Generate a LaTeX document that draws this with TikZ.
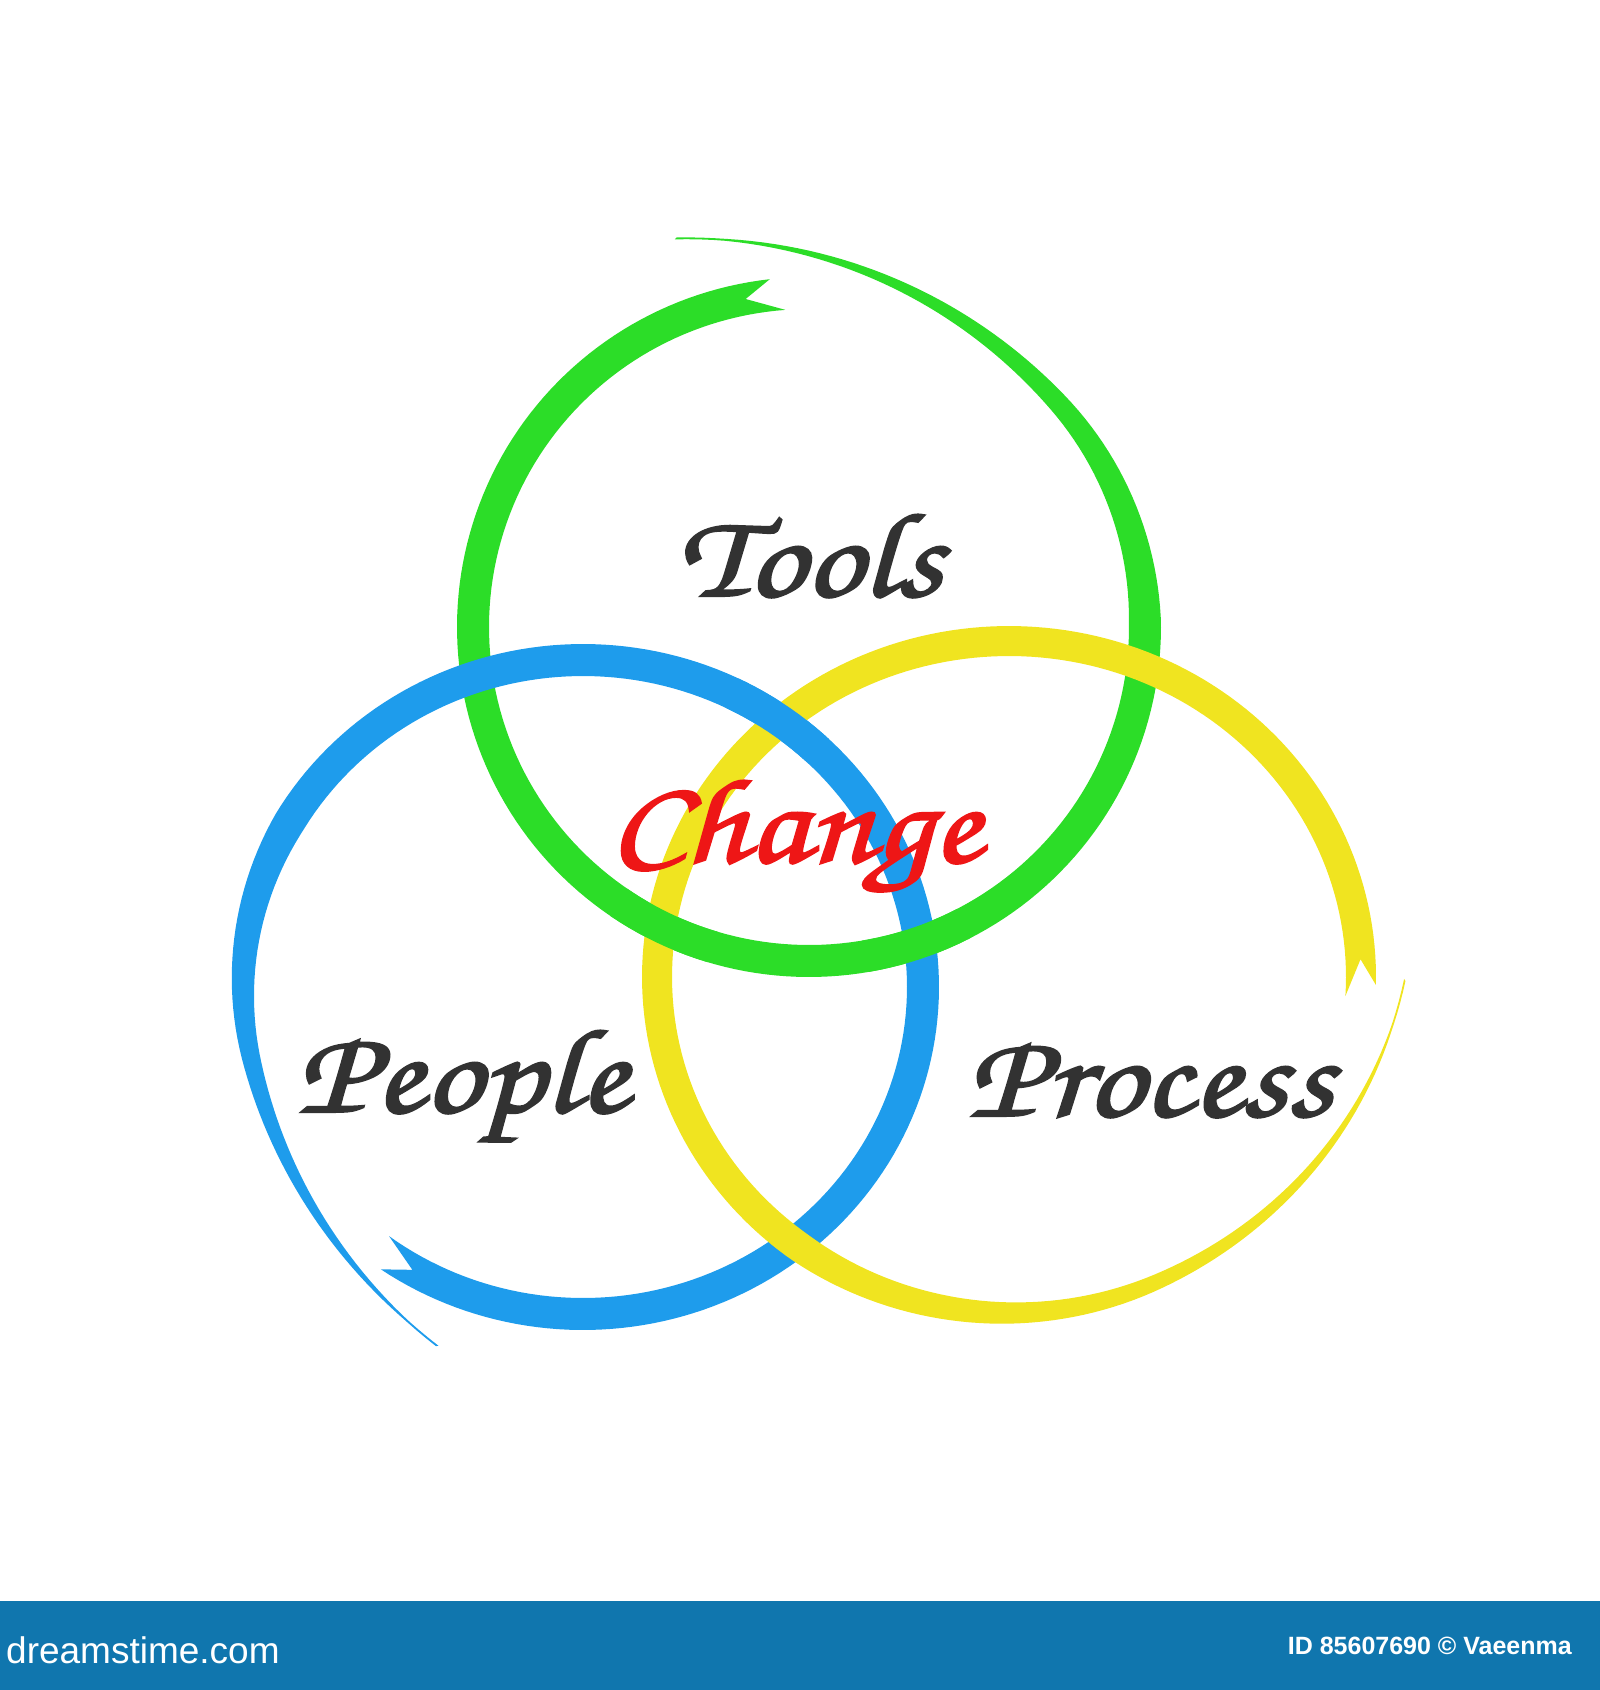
\documentclass[tikz,border=0pt]{standalone}
\usepackage{fontspec}
\usepackage{xcolor}
\usepackage{tikz}
\usetikzlibrary{positioning}
\newfontfamily\barfont{Liberation Sans}
\newfontfamily\handfont[FakeBold=2, FakeStretch=1.2]{texgyrechorus-mediumitalic.otf}

\definecolor{toolgreen}{RGB}{44,221,40}
\definecolor{peopleblue}{RGB}{30,156,236}
\definecolor{procyellow}{RGB}{240,228,32}
\definecolor{changered}{RGB}{238,22,22}
\definecolor{inkgray}{RGB}{50,50,50}
\definecolor{barblue}{RGB}{16,118,174}

\tikzset{
	lbl/.style = {font=\handfont\fontsize{120}{122}\selectfont, text=inkgray, inner sep=0pt, anchor=base},
	bartext/.style = {text=white, inner sep=0pt},
}
% one brush ring: centre, radii, start angle, sweep, width, taper and flare of the tail
\pgfkeys{/ring/.cd, cx/.store in=\rcx, cy/.store in=\rcy, rx/.store in=\rrx, ry/.store in=\rry,
	start/.store in=\rst, sweep/.store in=\rsw, width/.store in=\rw, taper/.store in=\rtp,
	flare at/.store in=\rfa, flare/.store in=\rfl}
\newcommand\brushring[2]{%
	\begingroup
	\pgfqkeys{/ring}{#1}%
	\fill[#2] plot[variable=\u, domain=0:1, samples=220]
			({\rcx+(\rrx+rof(\u)+rwd(\u)/2)*cos(ran(\u))}, {\rcy+(\rry+rof(\u)+rwd(\u)/2)*sin(ran(\u))})
		-- plot[variable=\u, domain=1:-0.008, samples=220]
			({\rcx+(\rrx+rof(\u)-rwd(\u)/2)*cos(ran(\u))}, {\rcy+(\rry+rof(\u)-rwd(\u)/2)*sin(ran(\u))})
		-- ({\rcx+\rrx*cos(\rst-\rsw*0.012)}, {\rcy+\rry*sin(\rst-\rsw*0.012)}) -- cycle;
	\endgroup}
\newcommand\toolsring{\brushring{cx=809, cy=627, rx=336, ry=334, start=263.6, sweep=372.6,
	width=32, taper=0.71, flare at=0.82, flare=77}{toolgreen}}
\newcommand\peoplering{\brushring{cx=583, cy=987, rx=340, ry=327, start=124.6, sweep=373.3,
	width=32, taper=0.735, flare at=0.85, flare=59}{peopleblue}}
\newcommand\processring{\brushring{cx=1009, cy=977, rx=352, ry=336, start=1.3, sweep=361,
	width=30, taper=0.65, flare at=0.82, flare=44}{procyellow}}

\begin{document}
\begin{tikzpicture}[x=1pt, y=-1pt,
	declare function={rwd(\u)=\rw*max(0.06,min(1,(1-\u)/(1-\rtp)));
		rof(\u)=\rfl*(max(0,(\u-\rfa)/(1-\rfa)))^2;
		ran(\u)=\rst-\rsw*\u;}]
	\useasboundingbox (0,0) rectangle (1600,1690);
	\toolsring
	\peoplering
	\processring
	% woven crossings
	\begin{scope}
		\clip (780,714) circle (55);
		\peoplering
	\end{scope}
	\begin{scope}
		\clip (663,930) circle (55);
		\toolsring
	\end{scope}
	\begin{scope}
		\clip (917,946) circle (55);
		\toolsring
	\end{scope}
	% labels
	\node[lbl] (tools) at (810,596) {Tools};
	\node[lbl] (people) at (462,1112) {People};
	\node[lbl] (process) at (1150,1116) {Process};
	\node[lbl, text=changered] (change) at (795,862) {Change};
	% stock banner
	\fill[barblue] (0,1601) rectangle (1600,1690);
	\node[bartext, anchor=west, font=\barfont\fontsize{37}{40}\selectfont] (site) at (6,1650) {dreamstime.com};
	\node[bartext, anchor=east, font=\barfont\bfseries\fontsize{25}{28}\selectfont] (credit) at (1572,1646) {ID 85607690 © Vaeenma};
\end{tikzpicture}
\end{document}
